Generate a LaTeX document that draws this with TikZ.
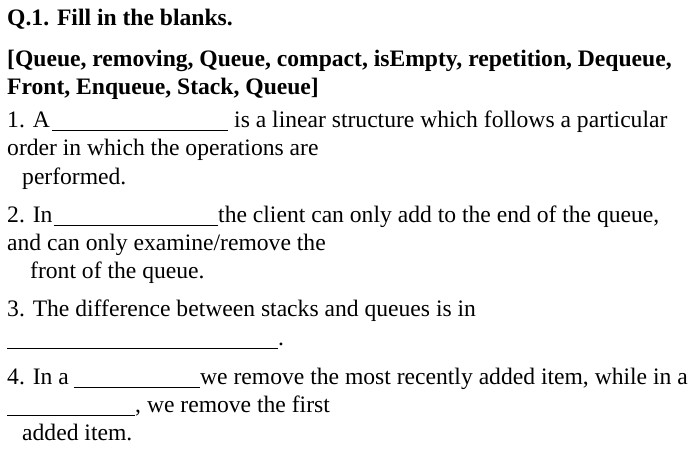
\documentclass[tikz,border=0pt]{standalone}
\usepackage{fontspec}
\setmainfont{Liberation Serif}
\begin{document}
\begin{tikzpicture}[x=1pt,y=-1pt,
  txt/.style={anchor=base west,inner sep=0pt,font=\fontsize{23.6}{28}\selectfont},
  btxt/.style={txt,font=\fontsize{23.6}{28}\selectfont\bfseries}]
\useasboundingbox (0,0) rectangle (700,449);
\tikzset{blank/.style={line width=1pt}}
\node[btxt] (t1) at (7,26) {Q.1. Fill in the blanks.};
\node[btxt] (t2) at (7,67) {[Queue, removing, Queue, compact, isEmpty, repetition, Dequeue,};
\node[btxt] (t3) at (7,95) {Front, Enqueue, Stack, Queue]};
\node[txt] (a1) at (7,128) {1. A};
\coordinate (a1s) at (52,131); \coordinate (a1e) at (228,131);
\draw[blank] (a1s) -- (a1e);
\node[txt] (a1b) at (234,128) {is a linear structure which follows a particular};
\node[txt] (a2) at (7,156) {order in which the operations are};
\node[txt] (a3) at (22,184) {performed.};
\node[txt] (b1) at (7,222) {2. In};
\coordinate (b1s) at (54,225); \coordinate (b1e) at (218,225);
\draw[blank] (b1s) -- (b1e);
\node[txt] (b1b) at (218,222) {the client can only add to the end of the queue,};
\node[txt] (b2) at (7,250) {and can only examine/remove the};
\node[txt] (b3) at (30,278) {front of the queue.};
\node[txt] (c1) at (7,316) {3. The difference between stacks and queues is in};
\coordinate (c2s) at (7,348); \coordinate (c2e) at (278,348);
\draw[blank] (c2s) -- (c2e);
\node[txt] (c2) at (278,345) {.};
\node[txt] (d1) at (7,384) {4. In a};
\coordinate (d1s) at (74,387); \coordinate (d1e) at (200,387);
\draw[blank] (d1s) -- (d1e);
\node[txt] (d1b) at (200,384) {we remove the most recently added item, while in a};
\coordinate (d2s) at (7,415); \coordinate (d2e) at (135,415);
\draw[blank] (d2s) -- (d2e);
\node[txt] (d2) at (135,412) {, we remove the first};
\node[txt] (d3) at (22,440) {added item.};
\end{tikzpicture}
\end{document}
